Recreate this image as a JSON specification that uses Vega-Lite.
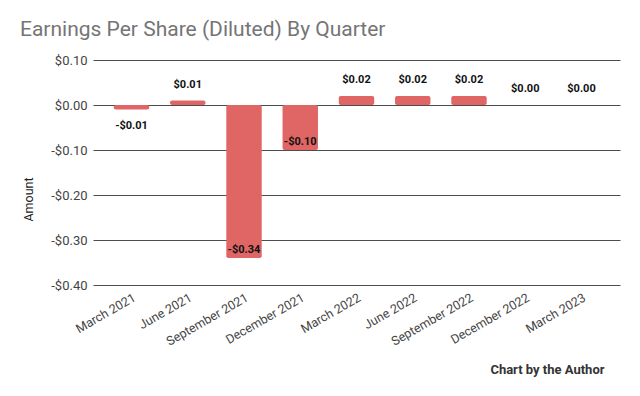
{
  "$schema": "https://vega.github.io/schema/vega-lite/v6.json",
  "width": 527,
  "height": 225,
  "autosize": {"type": "none"},
  "padding": {"left": 93, "top": 60, "right": 20, "bottom": 111},
  "background": "white",
  "title": {
    "text": "Earnings Per Share (Diluted) By Quarter",
    "anchor": "start",
    "frame": "group",
    "dx": -73,
    "offset": 14,
    "font": "Roboto",
    "fontSize": 21,
    "fontWeight": "normal",
    "color": "#757575"
  },
  "config": {
    "view": {"stroke": null},
    "font": "Roboto"
  },
  "data": {
    "values": [
      {"quarter": "March 2021", "eps": -0.01, "label": "-$0.01"},
      {"quarter": "June 2021", "eps": 0.01, "label": "$0.01"},
      {"quarter": "September 2021", "eps": -0.34, "label": "-$0.34"},
      {"quarter": "December 2021", "eps": -0.10, "label": "-$0.10"},
      {"quarter": "March 2022", "eps": 0.02, "label": "$0.02"},
      {"quarter": "June 2022", "eps": 0.02, "label": "$0.02"},
      {"quarter": "September 2022", "eps": 0.02, "label": "$0.02"},
      {"quarter": "December 2022", "eps": 0.0, "label": "$0.00"},
      {"quarter": "March 2023", "eps": 0.0, "label": "$0.00"}
    ]
  },
  "encoding": {
    "x": {
      "field": "quarter",
      "type": "nominal",
      "sort": null,
      "scale": {"paddingInner": 0.37, "paddingOuter": 0.37},
      "axis": {
        "labelAngle": -30,
        "labelFont": "Roboto",
        "labelFontSize": 12.5,
        "labelColor": "#444444",
        "labelPadding": 6,
        "ticks": false,
        "domain": false,
        "title": "Chart by the Author",
        "titleFont": "Roboto",
        "titleFontSize": 13,
        "titleFontWeight": "bold",
        "titleColor": "#333333",
        "titleAnchor": "end",
        "titleAlign": "right",
        "titleBaseline": "middle",
        "titleX": 511,
        "titleY": 84
      }
    },
    "y": {
      "field": "eps",
      "type": "quantitative",
      "scale": {"domain": [-0.4, 0.1], "nice": false, "zero": false},
      "axis": {
        "values": [-0.4, -0.3, -0.2, -0.1, 0, 0.1],
        "labelExpr": "(datum.value < -0.0001 ? '-' : '') + '$' + format(abs(datum.value), '.2f')",
        "labelFont": "Roboto",
        "labelFontSize": 13,
        "labelColor": "#444444",
        "labelPadding": 6,
        "ticks": false,
        "domain": false,
        "grid": true,
        "gridColor": "#4d4d4d",
        "gridWidth": 1.2,
        "title": "Amount",
        "titleFont": "Roboto",
        "titleFontSize": 12.5,
        "titleFontWeight": "normal",
        "titleColor": "#222222",
        "titleAngle": -90,
        "titleAlign": "center",
        "titleBaseline": "middle",
        "titleX": -65,
        "titleY": 139
      }
    }
  },
  "layer": [
    {
      "mark": {"type": "bar", "color": "#e06666", "cornerRadius": 2},
      "encoding": {"y2": {"datum": 0}}
    },
    {
      "transform": [{"filter": "datum.eps >= 0"}],
      "mark": {"type": "text", "font": "Roboto", "fontSize": 11, "fontWeight": "bold", "color": "#111111", "baseline": "middle", "dy": -16},
      "encoding": {"text": {"field": "label"}}
    },
    {
      "transform": [{"filter": "datum.eps < 0 && datum.eps > -0.05"}],
      "mark": {"type": "text", "font": "Roboto", "fontSize": 11, "fontWeight": "bold", "color": "#111111", "baseline": "middle", "dy": 16},
      "encoding": {"text": {"field": "label"}}
    },
    {
      "transform": [{"filter": "datum.eps <= -0.05"}],
      "mark": {"type": "text", "font": "Roboto", "fontSize": 11, "fontWeight": "bold", "color": "#111111", "baseline": "middle", "dy": -8},
      "encoding": {"text": {"field": "label"}}
    }
  ]
}
